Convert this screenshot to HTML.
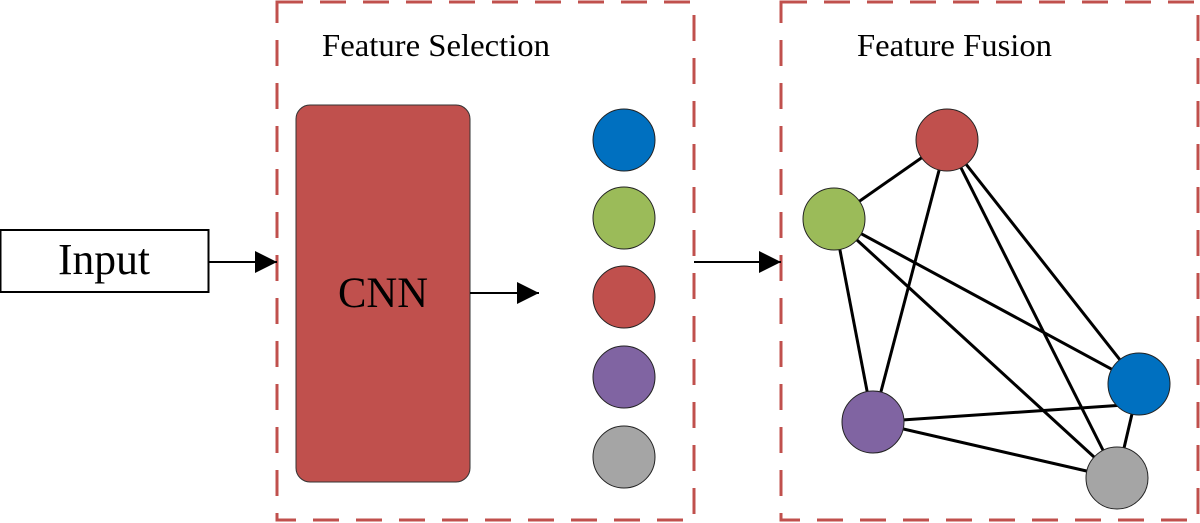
<!DOCTYPE html>
<html><head><meta charset="utf-8"><style>
html,body{margin:0;padding:0;background:#fff;}
svg{display:block;}
text{font-family:"Liberation Serif",serif;fill:#000;}
</style></head><body>
<svg width="1200" height="523" viewBox="0 0 1200 523" xmlns="http://www.w3.org/2000/svg">
<defs>
<marker id="b" viewBox="0 0 10 10" markerWidth="22" markerHeight="22" refX="10" refY="5" orient="auto" markerUnits="userSpaceOnUse"><path d="M0,0 L10,5 L0,10 z" fill="#000"/></marker></defs>
<rect x="277" y="2" width="417" height="518" fill="none" stroke="#c0504d" stroke-width="3" stroke-dasharray="26,17"/>
<rect x="781" y="2" width="417" height="518" fill="none" stroke="#c0504d" stroke-width="3" stroke-dasharray="26,17"/>
<text x="322" y="56" font-size="32" textLength="228" lengthAdjust="spacingAndGlyphs">Feature Selection</text>
<text x="857" y="56" font-size="32" textLength="195" lengthAdjust="spacingAndGlyphs">Feature Fusion</text>
<rect x="0.5" y="230" width="208" height="62" fill="#fff" stroke="#000" stroke-width="2"/>
<text x="58" y="274" font-size="44" textLength="92" lengthAdjust="spacingAndGlyphs">Input</text>
<line x1="209" y1="262" x2="277" y2="262" stroke="#000" stroke-width="2" marker-end="url(#b)"/>
<rect x="296" y="105" width="174" height="377" rx="14" fill="#c0504d" stroke="#333" stroke-width="1"/>
<text x="338" y="307" font-size="43" textLength="90" lengthAdjust="spacingAndGlyphs">CNN</text>
<line x1="470" y1="293" x2="539" y2="293" stroke="#000" stroke-width="2" marker-end="url(#b)"/>
<line x1="694" y1="262" x2="781" y2="262" stroke="#000" stroke-width="2" marker-end="url(#b)"/>
<g stroke="#222" stroke-width="1">
<circle cx="624" cy="140" r="31" fill="#0070c0"/>
<circle cx="624" cy="218" r="31" fill="#9bbb59"/>
<circle cx="624" cy="297" r="31" fill="#c0504d"/>
<circle cx="624" cy="377" r="31" fill="#8064a2"/>
<circle cx="624" cy="457" r="31" fill="#a5a5a5"/>
</g>
<g stroke="#000" stroke-width="3">
<line x1="947" y1="140" x2="834" y2="219"/>
<line x1="947" y1="140" x2="873" y2="422"/>
<line x1="947" y1="140" x2="1117" y2="478"/>
<line x1="947" y1="140" x2="1139" y2="384"/>
<line x1="834" y1="219" x2="873" y2="422"/>
<line x1="834" y1="219" x2="1139" y2="384"/>
<line x1="834" y1="219" x2="1117" y2="478"/>
<line x1="873" y1="422" x2="1139" y2="404"/>
<line x1="873" y1="422" x2="1117" y2="478"/>
<line x1="1139" y1="384" x2="1117" y2="478"/>
</g>
<g stroke="#222" stroke-width="1">
<circle cx="947" cy="140" r="31" fill="#c0504d"/>
<circle cx="834" cy="219" r="31" fill="#9bbb59"/>
<circle cx="1139" cy="384" r="31" fill="#0070c0"/>
<circle cx="873" cy="422" r="31" fill="#8064a2"/>
<circle cx="1117" cy="478" r="31" fill="#a5a5a5"/>
</g>
</svg>
</body></html>
